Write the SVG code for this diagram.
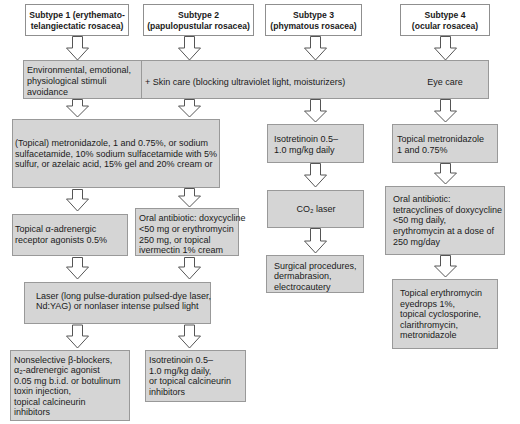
<svg xmlns="http://www.w3.org/2000/svg" width="520" height="424" viewBox="0 0 520 424">
<style>
text{font-family:"Liberation Sans",Arial,sans-serif;font-size:9px;fill:#1a1a1a}
.hd{font-weight:bold;font-size:8.6px;text-anchor:middle}
.c{text-anchor:middle}
.hdr{fill:#ffffff;stroke:#8f8f8f;stroke-width:1}
.box{fill:#d5d5d5;stroke:#999999;stroke-width:1}
.ar{fill:#ffffff;stroke:#555555;stroke-width:1}
</style>
<rect width="520" height="424" fill="#ffffff"/>

<g id="sub1"><rect class="hdr" x="25.5" y="4.5" width="103" height="31"/><text class="hd" x="77" y="17.5">Subtype 1 (erythemato-</text><text class="hd" x="77" y="29">telangiectatic rosacea)</text></g>
<g id="sub2"><rect class="hdr" x="143.5" y="4.5" width="110" height="31"/><text class="hd" x="198.5" y="17.5">Subtype 2</text><text class="hd" x="198.5" y="29">(papulopustular rosacea)</text></g>
<g id="sub3"><rect class="hdr" x="265.5" y="4.5" width="96" height="31"/><text class="hd" x="313.5" y="17.5">Subtype 3</text><text class="hd" x="313.5" y="29">(phymatous rosacea)</text></g>
<g id="sub4"><rect class="hdr" x="400.5" y="4.5" width="89" height="31"/><text class="hd" x="445" y="17.5">Subtype 4</text><text class="hd" x="445" y="29">(ocular rosacea)</text></g>

<g id="avoid"><rect class="box" x="23.5" y="60.5" width="118" height="38"/><text x="27" y="73">Environmental, emotional,</text><text x="27" y="84">physiological stimuli</text><text x="27" y="94.5">avoidance</text></g>
<g id="care"><rect class="box" x="141.5" y="60.5" width="347" height="38"/><text x="145" y="85">+  Skin care (blocking ultraviolet light, moisturizers)</text><text class="c" x="445" y="85">Eye care</text></g>

<g id="topical12"><rect class="box" x="12.5" y="119.5" width="207" height="68"/><text x="15" y="145.5">(Topical) metronidazole, 1 and 0.75%, or sodium</text><text x="15" y="156.5">sulfacetamide, 10% sodium sulfacetamide with 5%</text><text x="15" y="167">sulfur, or azelaic acid, 15% gel and 20% cream or</text></g>

<g id="alpha"><rect class="box" x="12.5" y="214.5" width="115" height="41"/><text x="15" y="231.5">Topical α-adrenergic</text><text x="15" y="242.5">receptor agonists 0.5%</text></g>
<g id="oral2"><rect class="box" x="135.5" y="208.5" width="103" height="47"/><text x="139" y="220.5">Oral antibiotic: doxycycline</text><text x="139" y="231.5">&lt;50 mg or erythromycin</text><text x="139" y="242.5">250 mg, or topical</text><text x="139" y="253">ivermectin 1% cream</text></g>

<g id="laser"><rect class="box" x="24.5" y="282.5" width="186" height="41"/><text x="36" y="298.5">Laser (long pulse-duration pulsed-dye laser,</text><text x="36" y="309">Nd:YAG) or nonlaser intense pulsed light</text></g>

<g id="nonsel"><rect class="box" x="10.5" y="350.5" width="119" height="70"/><text x="14" y="362.5">Nonselective β-blockers,</text><text x="14" y="373">α₂-adrenergic agonist</text><text x="14" y="383.5">0.05 mg b.i.d. or botulinum</text><text x="14" y="394">toxin injection,</text><text x="14" y="404.5">topical calcineurin</text><text x="14" y="415">inhibitors</text></g>
<g id="iso2"><rect class="box" x="145.5" y="350.5" width="100" height="51"/><text x="149" y="363">Isotretinoin 0.5–</text><text x="149" y="373.5">1.0 mg/kg daily,</text><text x="149" y="384">or topical calcineurin</text><text x="149" y="394.5">inhibitors</text></g>

<g id="iso3"><rect class="box" x="267.5" y="124.5" width="96" height="38"/><text x="274" y="141.5">Isotretinoin 0.5–</text><text x="274" y="153">1.0 mg/kg daily</text></g>
<g id="co2"><rect class="box" x="267.5" y="190.5" width="96" height="37"/><text class="c" x="316" y="212">CO₂ laser</text></g>
<g id="surg"><rect class="box" x="266.5" y="255.5" width="97" height="37"/><text x="274" y="268.5">Surgical procedures,</text><text x="274" y="279">dermabrasion,</text><text x="274" y="289.5">electrocautery</text></g>

<g id="metro4"><rect class="box" x="392.5" y="124.5" width="105" height="38"/><text x="397" y="141.5">Topical metronidazole</text><text x="397" y="153">1 and 0.75%</text></g>
<g id="oral4"><rect class="box" x="385.5" y="186.5" width="119" height="68"/><text x="393" y="202">Oral antibiotic:</text><text x="393" y="212.5">tetracyclines of doxycycline</text><text x="393" y="223">&lt;50 mg daily,</text><text x="393" y="233.5">erythromycin at a dose of</text><text x="393" y="244.5">250 mg/day</text></g>
<g id="ery4"><rect class="box" x="392.5" y="279.5" width="105" height="69"/><text x="400" y="296">Topical erythromycin</text><text x="400" y="306.5">eyedrops 1%,</text><text x="400" y="317">topical cyclosporine,</text><text x="400" y="327.5">clarithromycin,</text><text x="400" y="338">metronidazole</text></g>

<g id="connectors">
<path class="ar" d="M72.5,36.5H82.5V48H88.5L77.5,60L66.5,48H72.5Z"/>
<path class="ar" d="M184.5,36.5H194.5V48H200.5L189.5,60L178.5,48H184.5Z"/>
<path class="ar" d="M310.5,36.5H320.5V48H326.5L315.5,60L304.5,48H310.5Z"/>
<path class="ar" d="M440.5,36.5H450.5V48H456.5L445.5,60L434.5,48H440.5Z"/>

<path class="ar" d="M72.5,99.5H82.5V106H88.5L77.5,117L66.5,106H72.5Z"/>
<path class="ar" d="M184.5,99.5H194.5V106H200.5L189.5,117L178.5,106H184.5Z"/>
<path class="ar" d="M310.5,99.5H320.5V111H326.5L315.5,122L304.5,111H310.5Z"/>
<path class="ar" d="M440.5,99.5H450.5V111H456.5L445.5,122L434.5,111H440.5Z"/>

<path class="ar" d="M72.5,189.5H82.5V199H88.5L77.5,211L66.5,199H72.5Z"/>
<path class="ar" d="M184.5,188.5H194.5V196H200.5L189.5,207L178.5,196H184.5Z"/>

<path class="ar" d="M72.5,257.5H82.5V267H88.5L77.5,279L66.5,267H72.5Z"/>
<path class="ar" d="M184.5,257.5H194.5V267H200.5L189.5,279L178.5,267H184.5Z"/>

<path class="ar" d="M72.5,325H82.5V336H88.5L77.5,348L66.5,336H72.5Z"/>
<path class="ar" d="M184.5,325H194.5V336H200.5L189.5,348L178.5,336H184.5Z"/>

<path class="ar" d="M310.5,163.5H320.5V175H326.5L315.5,187L304.5,175H310.5Z"/>
<path class="ar" d="M310.5,228.5H320.5V241H326.5L315.5,253L304.5,241H310.5Z"/>

<path class="ar" d="M440.5,163.5H450.5V173H456.5L445.5,184L434.5,173H440.5Z"/>
<path class="ar" d="M440.5,255.5H450.5V266H456.5L445.5,277L434.5,266H440.5Z"/>
</g>
</svg>
